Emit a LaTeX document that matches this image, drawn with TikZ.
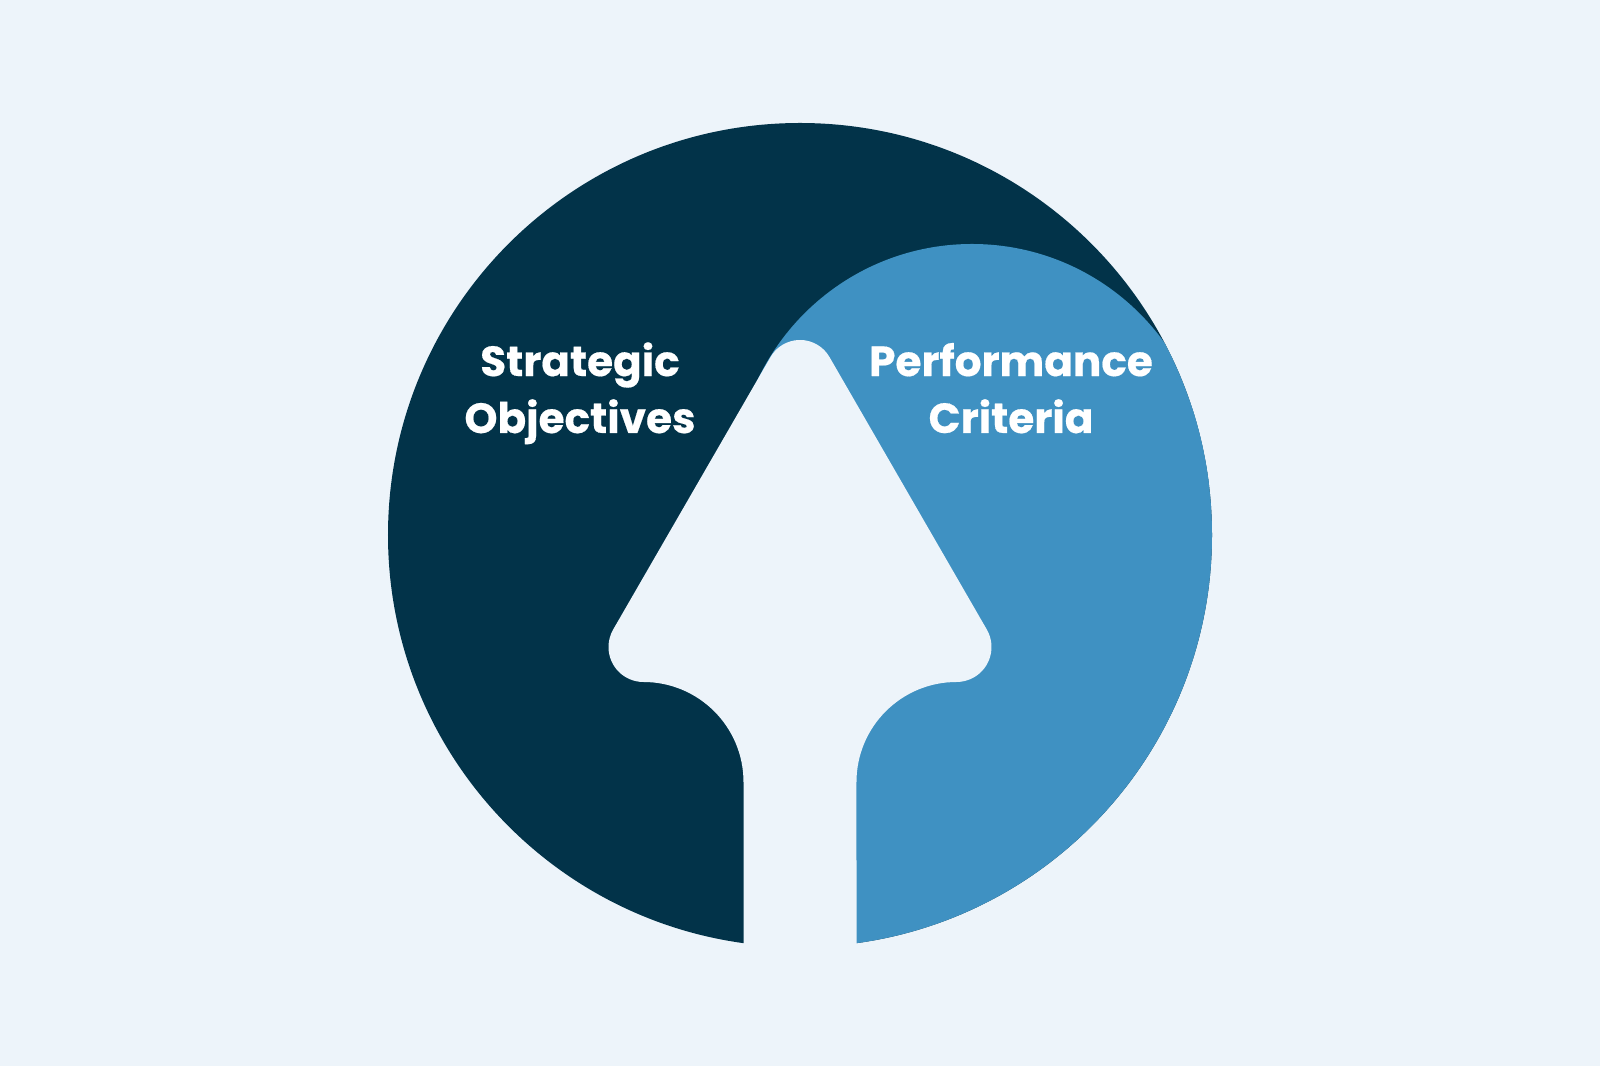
\documentclass[tikz,border=0pt]{standalone}
\usepackage{xcolor}
\usepackage{fontspec}
\newfontfamily\lblfont{Poppins}[BoldFeatures={FakeBold=0.4}]
\definecolor{mbg}{HTML}{EDF4FA}
\definecolor{mnavy}{HTML}{023349}
\definecolor{mblue}{HTML}{3F91C2}
\usepackage{tikz}

\begin{document}
\begin{tikzpicture}[scale=1,
    lbl/.style={text=white, align=center, text height=0.8cm, text depth=0.1cm,
      font=\lblfont\bfseries\fontsize{12pt}{16.2pt}\selectfont}]

            \fill[mbg] (-8, -5.31) rectangle (8, 5.35);
            \useasboundingbox (-8, -5.31) rectangle (8, 5.35);

            \fill[mnavy] (0, 0) circle (4.12);
            \begin{scope}
              \clip (0, 0) circle (4.12);
              \fill[mblue] (1.72, 0.54) circle (2.37);
              \fill[mblue] (0, 1.35) rectangle (5, -5);
            \end{scope}

            % arrow cut out of the disc
            \fill[mbg] (-0.565, -5) -- (-0.565, -2.47)
                arc (0:90:1.0) arc (270:150:0.35)
                -- (-0.2944, 1.78) arc (150:30:0.34)
                -- (1.868, -0.945) arc (30:-90:0.35)
                arc (90:180:1.0) -- (0.565, -5) -- cycle;

            \node[lbl] (strat) at (-2.20, 1.37) {Strategic\\Objectives};
            \node[lbl] (perf) at (2.11, 1.37) {Performance\\Criteria};

          \end{tikzpicture}
\end{document}
